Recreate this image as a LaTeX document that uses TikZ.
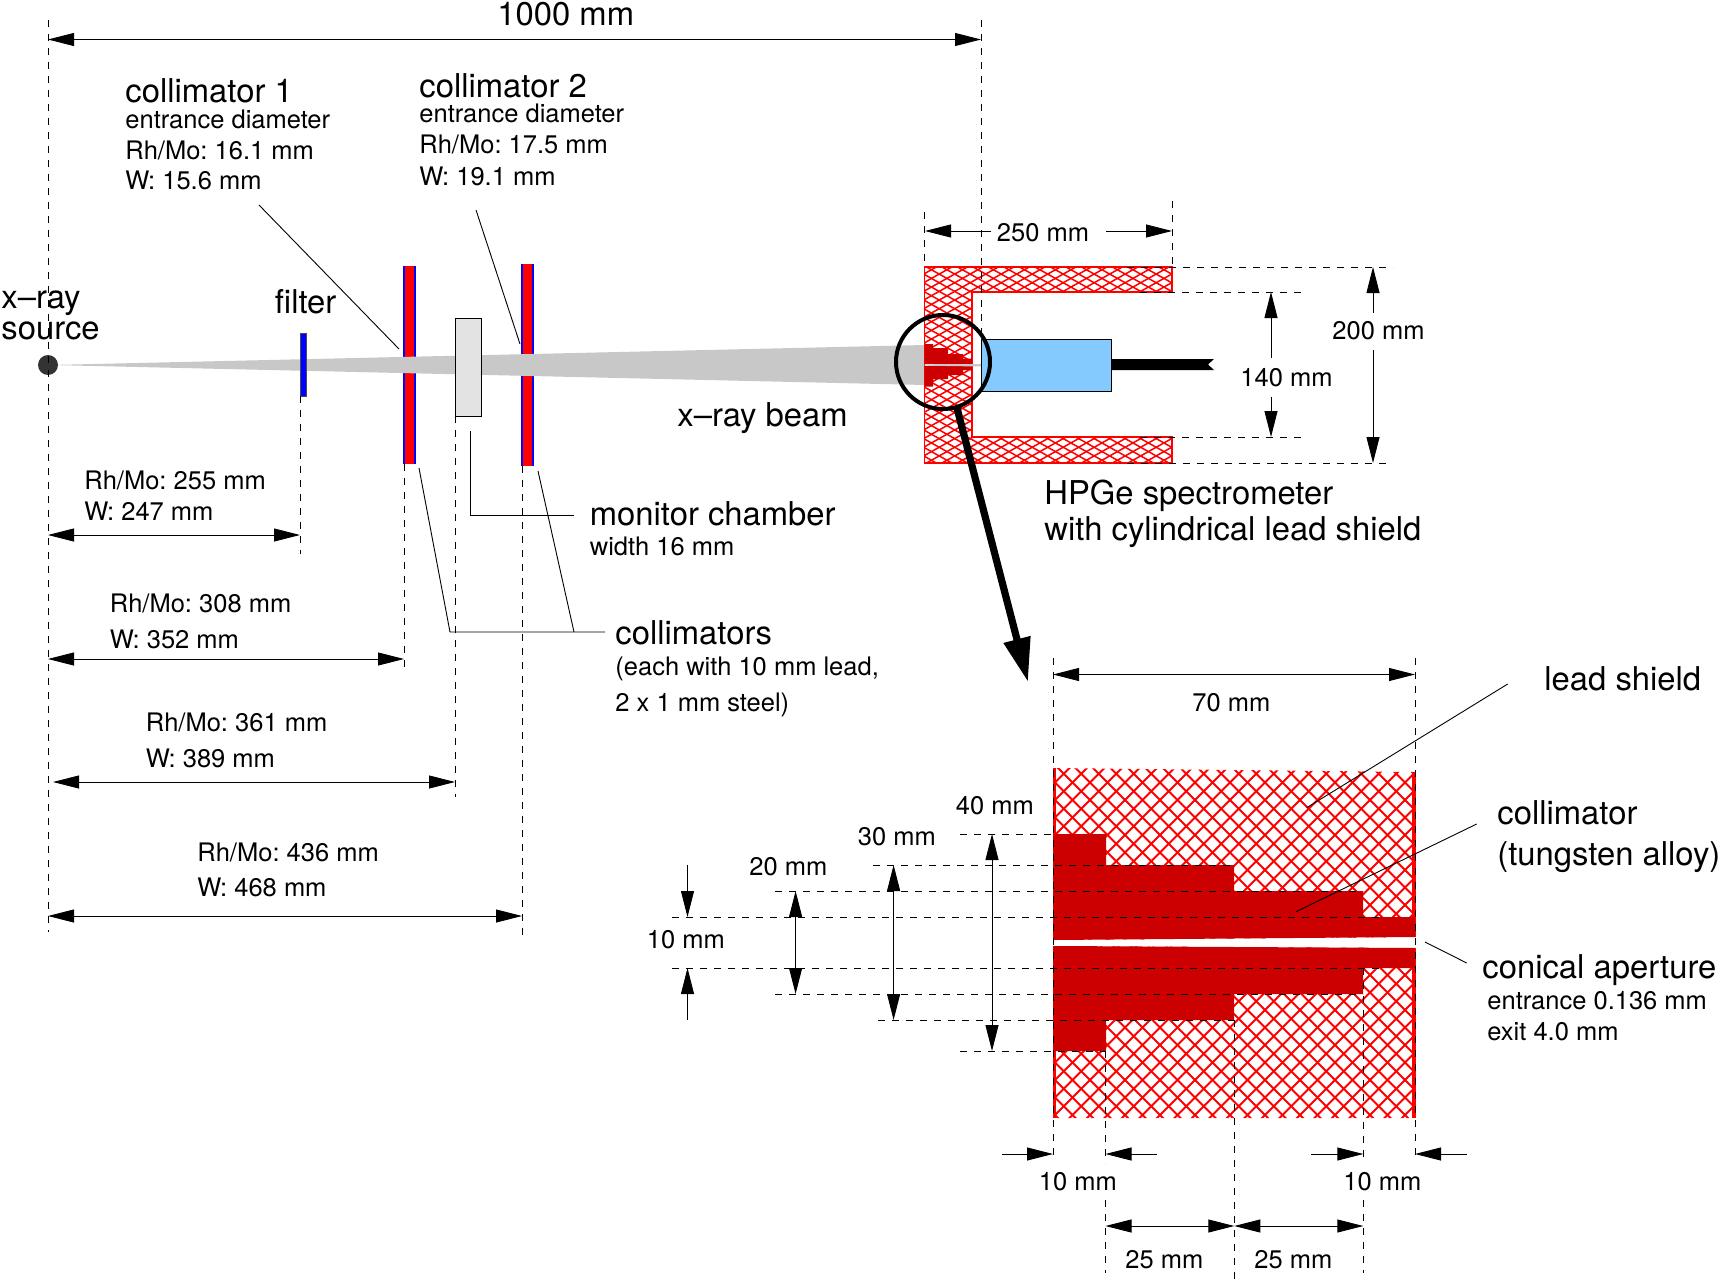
\documentclass[tikz,border=0pt]{standalone}
\usepackage{fontspec}
\setmainfont{TeX Gyre Heros}
\usetikzlibrary{arrows.meta}
\definecolor{colred}{HTML}{CC0000}
\definecolor{beamgrey}{HTML}{C8C8C8}
\definecolor{detblue}{HTML}{84CAFF}
\tikzset{
 big/.style={inner sep=0pt,anchor=base west,font=\fontsize{16.4}{19}\selectfont},
 small/.style={inner sep=0pt,anchor=base west,font=\fontsize{12.75}{15}\selectfont},
 dash line/.style={black,line width=0.45pt,dash pattern=on 3.6pt off 3.4pt},
 leader/.style={black,line width=0.45pt},
 dimen/.style={black,line width=0.45pt},
 hatchline/.style={red,line width=0.75pt},
 >={Triangle[length=13pt,width=6.5pt]}
}
\frenchspacing
\begin{document}
\begin{tikzpicture}[x=0.5pt,y=-0.5pt]
\useasboundingbox (0,0) rectangle (1720,1279);
% collimators
\foreach \a/\b/\t/\e in {403/415.6/266/464,521/534/264/466}{
  \fill[red] (\a,\t) rectangle (\b,\e);
  \fill[blue] (\a,\t) rectangle (\a+1.6,\e);
  \fill[blue] (\b-1.6,\t) rectangle (\b,\e);
}
% beam
\fill[beamgrey] (50,365) -- (925,345) -- (925,385) -- cycle;
% filter
\draw[black!70,line width=0.5pt,fill=blue] (300.4,333) rectangle (306,396);
% monitor chamber
\draw[black,line width=0.5pt,fill=black!11] (455,318) rectangle (481,416);
% source
\fill[black!80] (48,365) circle[radius=10];
% small shield
\begin{scope}
\clip (924.5,267) -- (1172,267) -- (1172,292) -- (972,292) -- (972,437) -- (1172,437) -- (1172,463) -- (924.5,463) -- cycle;
\foreach \k in {570,585.5,...,1180}{
  \draw[hatchline] (\k,463) -- ++(358,-200);
  \draw[hatchline] (\k,267) -- ++(358,200);
}
\end{scope}
\draw[red,line width=0.6pt] (924.5,267) -- (1172,267) -- (1172,292) -- (972,292) -- (972,437) -- (1172,437) -- (1172,463) -- (924.5,463) -- cycle;
\fill[colred] (924.5,344) -- (933,344) -- (933,348) -- (948,348) -- (948,354) -- (963,354) -- (963,358.5) -- (972,358.5) -- (972,370) -- (963,370) -- (963,375) -- (948,375) -- (948,379) -- (933,379) -- (933,386.5) -- (924.5,386.5) -- cycle;
\fill[white] (924.5,364) rectangle (972,366);
\fill[beamgrey] (924.5,364.3) -- (981,364) -- (981,366.5) -- (924.5,365.7) -- cycle;
% detector
\draw[black,line width=0.5pt,fill=detblue] (981,339) rectangle (1111,391);
\fill[black] (1111,359) -- (1214,359) -- (1208,364.5) -- (1214,370) -- (1111,370) -- cycle;
% lens
\draw[black,line width=2pt] (943,362) circle[radius=47];
\draw[black,line width=3.6pt,-{Triangle[length=22pt,width=13pt]}] (957,408) -- (1028,682);
% detail
\begin{scope}
\clip (1053,768) -- (1415,772) -- (1415,1118) -- (1053,1118) -- cycle;
\foreach \k in {700,717.5,...,1450}{
  \draw[hatchline,line width=0.95pt] (\k,1120) -- ++(360,-360);
  \draw[hatchline,line width=0.95pt] (\k,760) -- ++(360,360);
}
\end{scope}
\draw[red,line width=1.6pt] (1054.6,768) -- (1054.6,1118);
\draw[red,line width=1.6pt] (1413.9,772) -- (1413.9,1118);
\fill[white] (1053,940) -- (1417,937) -- (1417,948) -- (1053,946) -- cycle;
\fill[colred] (1053,834) -- (1106,834) -- (1106,865) -- (1234,865) -- (1234,891) -- (1363,891) -- (1363,917) -- (1415,917) -- (1415,937) -- (1053,940) -- cycle;
\fill[colred] (1053,946) -- (1415,948) -- (1415,968) -- (1363,968) -- (1363,994) -- (1234,994) -- (1234,1020) -- (1106,1020) -- (1106,1051) -- (1053,1051) -- cycle;
% dashed guide lines
\draw[dash line] (48,20) -- (48,932);
\draw[dash line] (981,20) -- (981,339);
\draw[dash line] (300.4,396) -- (300.4,554);
\draw[dash line] (404,464) -- (404,671);
\draw[dash line] (455,416) -- (455,797);
\draw[dash line] (522,466) -- (522,938);
\draw[dash line] (924.5,212) -- (924.5,267);
\draw[dash line] (1172,201) -- (1172,267);
\draw[dash line] (1127,267) -- (1393,267);
\draw[dash line] (1127,463) -- (1386,463);
\draw[dash line] (1140,292) -- (1303,292);
\draw[dash line] (1140,437) -- (1307,437);
\draw[dash line] (1053,658) -- (1053,1160);
\draw[dash line] (1415,658) -- (1415,1160);
\draw[dash line] (1105.5,1051) -- (1105.5,1163);
\draw[dash line] (1105.5,1200) -- (1105.5,1273);
\draw[dash line] (1234.3,1020) -- (1234.3,1279);
\draw[dash line] (1363.3,968) -- (1363.3,1163);
\draw[dash line] (1363.3,1200) -- (1363.3,1273);
\draw[dash line] (960,834) -- (1053,834);
\draw[dash line] (960,1051) -- (1106,1051);
\draw[dash line] (873,865) -- (1234,865);
\draw[dash line] (878,1020) -- (1234,1020);
\draw[dash line] (775,891) -- (1363,891);
\draw[dash line] (775,994) -- (1363,994);
\draw[dash line] (672,917) -- (1380,917);
\draw[dash line] (672,968) -- (1380,968);
% dimension arrows
\draw[dimen,<->] (48,39.5) -- (981,39.5);
\draw[dimen,<->] (48,535) -- (300,535);
\draw[dimen,<->] (48,659) -- (404,659);
\draw[dimen,<->] (53,782) -- (455,782);
\draw[dimen,<->] (48,916) -- (522,916);
\draw[dimen,<-] (925,231) -- (991,231);
\draw[dimen,<-] (1172,231) -- (1106,231);
\draw[dimen,<-] (1373,267) -- (1373,313);
\draw[dimen,<-] (1373,463) -- (1373,350);
\draw[dimen,<-] (1271,292) -- (1271,358);
\draw[dimen,<-] (1271,437) -- (1271,397);
\draw[dimen,<->] (1053,674.5) -- (1415,674.5);
\draw[dimen,<->] (992,834) -- (992,1051);
\draw[dimen,<->] (893.6,865) -- (893.6,1020);
\draw[dimen,<->] (795.6,891) -- (795.6,994);
\draw[dimen,<-] (687.5,917) -- (687.5,865);
\draw[dimen,<-] (687.5,968) -- (687.5,1020);
\draw[dimen,<-] (1053,1154) -- (1002,1154);
\draw[dimen,<-] (1105.5,1154) -- (1157,1154);
\draw[dimen,<-] (1363.3,1154) -- (1311,1154);
\draw[dimen,<-] (1415,1154) -- (1467,1154);
\draw[dimen,<->] (1105.5,1226) -- (1234.3,1226);
\draw[dimen,<->] (1234.3,1226) -- (1363.3,1226);
% leaders
\draw[leader] (259,205) -- (399,349);
\draw[leader] (476,210) -- (520,344);
\draw[leader] (470.6,431) -- (470.6,515.6) -- (574,515.6);
\draw[leader] (419,468) -- (450,632) -- (605,632);
\draw[leader] (538,471) -- (574,632);
\draw[leader] (1507.7,684) -- (1306.7,807.7);
\draw[leader] (1476.7,824) -- (1296,911.7);
\draw[leader] (1466.7,963) -- (1425,942);
% text
\node[big] (t1000) at (497,26) {1000 mm};
\node[big] (c1) at (125,103) {collimator 1};
\node[small] (c1a) at (125,129) {entrance diameter};
\node[small] (c1b) at (125,160) {Rh/Mo: 16.1 mm};
\node[small] (c1c) at (125,190) {W: 15.6 mm};
\node[big] (c2) at (419,98) {collimator 2};
\node[small] (c2a) at (419,122.5) {entrance diameter};
\node[small] (c2b) at (419,154) {Rh/Mo: 17.5 mm};
\node[small] (c2c) at (419,185) {W: 19.1 mm};
\node[big] (xr1) at (1,308) {x--ray};
\node[big] (xr2) at (1,339) {source};
\node[big] (fil) at (274.5,313) {filter};
\node[small] (d1a) at (84,489) {Rh/Mo: 255 mm};
\node[small] (d1b) at (84,520) {W: 247 mm};
\node[small] (d2a) at (109.5,612) {Rh/Mo: 308 mm};
\node[small] (d2b) at (109.5,648.5) {W: 352 mm};
\node[small] (d3a) at (145.5,731.5) {Rh/Mo: 361 mm};
\node[small] (d3b) at (145.5,767) {W: 389 mm};
\node[small] (d4a) at (197,861) {Rh/Mo: 436 mm};
\node[small] (d4b) at (197,896) {W: 468 mm};
\node[big] (mon) at (589.5,525) {monitor chamber};
\node[small] (mon2) at (589.5,555.5) {width 16 mm};
\node[big] (col) at (615,644) {collimators};
\node[small] (col2) at (615,675) {(each with 10 mm lead,};
\node[small] (col3) at (615,711) {2 x 1 mm steel)};
\node[big] (xb) at (677,426.5) {x--ray beam};
\node[big] (hp1) at (1044,504) {HPGe spectrometer};
\node[big] (hp2) at (1044,540) {with cylindrical lead shield};
\node[small] (t250) at (996.5,241.5) {250 mm};
\node[small] (t200) at (1332,339) {200 mm};
\node[small] (t140) at (1240,386) {140 mm};
\node[small] (t70) at (1192,711) {70 mm};
\node[small] (t40) at (955.5,814) {40 mm};
\node[small] (t30) at (857.5,845) {30 mm};
\node[small] (t20) at (749,875) {20 mm};
\node[small] (t10) at (646.5,948) {10 mm};
\node[small] (t10a) at (1038.5,1190) {10 mm};
\node[small] (t10b) at (1343,1190) {10 mm};
\node[small] (t25a) at (1125,1268) {25 mm};
\node[small] (t25b) at (1254,1268) {25 mm};
\node[big] (ls) at (1544,690) {lead shield};
\node[big] (ct) at (1497,824) {collimator};
\node[big] (ct2) at (1497,865.5) {(tungsten alloy)};
\node[big] (ca) at (1482,978.5) {conical aperture};
\node[small] (ca2) at (1487,1009) {entrance 0.136 mm};
\node[small] (ca3) at (1487,1040) {exit 4.0 mm};
\end{tikzpicture}
\end{document}
